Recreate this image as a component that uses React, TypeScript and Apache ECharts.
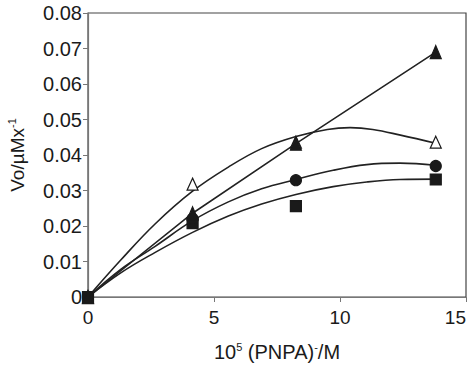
import React, { useEffect, useRef } from "react";
import * as echarts from "echarts";

// Measured points (x = 10^5 (PNPA)^-1 /M, y = Vo /µM·min^-1)
const xPoints = [0, 4.15, 8.25, 13.8];
const squareVals = [0, 0.0208, 0.0256, 0.0331];
const circleVals = [0, 0.022, 0.0329, 0.0369];
const filledTriVals = [0, 0.0236, 0.0432, 0.069];
const openTriVals = [0, 0.0318, 0.0436, 0.0436];

// Trend curves
const curveX = [0, 1.3, 2.65, 4.15, 5.57, 6.89, 8.25, 9.73, 11.06, 12.38, 13.8];
const squareCurve = [0, 0.0068, 0.0125, 0.0182, 0.0228, 0.0262, 0.0289, 0.0311, 0.0324, 0.0331, 0.0332];
const circleCurve = [0, 0.0078, 0.0142, 0.0215, 0.0268, 0.0305, 0.0331, 0.0357, 0.0373, 0.0377, 0.0371];
const openTriCurveX = [0, 1.3, 2.65, 4.15, 5.57, 6.89, 8.25, 9.5, 10.4, 11.3, 12.4, 13.8];
const openTriCurve = [0, 0.0104, 0.0205, 0.0298, 0.0366, 0.0418, 0.0452, 0.0472, 0.0477, 0.0472, 0.0456, 0.0433];

const xTicks = { min: 0, max: 15, interval: 5 };
const yTicks = { min: 0, max: 0.08, interval: 0.01 };

const zip = (xs: number[], ys: number[]) => xs.map((x, i) => [x, ys[i]]);

const INK = "#1a1a1a";
const FONT = "Liberation Sans, Arial, sans-serif";

export default function App() {
  const ref = useRef<HTMLDivElement>(null);
  useEffect(() => {
    if (!ref.current) return;
    const chart = echarts.init(ref.current, undefined, { renderer: "svg" });
    const curve = (data: number[][], smooth: boolean | number) => ({
      type: "line" as const,
      data,
      smooth,
      showSymbol: false,
      symbol: "none",
      lineStyle: { color: "#222", width: 1.6 },
      z: 2,
      silent: true,
    });
    const marks = (data: number[][], symbol: string, size: number | number[], fill: string) => ({
      type: "scatter" as const,
      data,
      symbol,
      symbolSize: size,
      itemStyle: { color: fill, borderColor: INK, borderWidth: 1.2, opacity: 1 },
      z: 3,
    });
    const supStyle = (fs: number, lh: number) => ({
      fontSize: fs,
      lineHeight: lh,
      verticalAlign: "top",
      color: INK,
      fontFamily: FONT,
      padding: [0, 0, 10, 0],
    });
    chart.setOption({
      animation: false,
      backgroundColor: "#fff",
      textStyle: { fontFamily: FONT },
      grid: {
        left: 88,
        right: 8,
        top: 13,
        bottom: 68,
        containLabel: false,
        outerBoundsMode: "none",
        show: true,
        borderColor: "#444",
        borderWidth: 1.2,
        backgroundColor: "transparent",
      },
      xAxis: {
        type: "value",
        min: xTicks.min,
        max: xTicks.max,
        interval: xTicks.interval,
        splitLine: { show: false },
        axisLine: { onZero: false, lineStyle: { color: "#777", width: 1.2 } },
        axisTick: { show: true, length: 5, lineStyle: { color: "#777" } },
        axisLabel: { color: INK, fontSize: 19, margin: 11, fontFamily: FONT, alignMaxLabel: "right" },
        name: "10{sup|5} (PNPA){sup|-}/M",
        nameLocation: "middle",
        nameGap: 44,
        nameTextStyle: {
          color: INK,
          fontSize: 20,
          fontFamily: FONT,
          lineHeight: 22,
          rich: { sup: supStyle(11, 22) },
        },
      },
      yAxis: {
        type: "value",
        min: yTicks.min,
        max: yTicks.max,
        interval: yTicks.interval,
        splitLine: { show: false },
        axisLine: { show: true, onZero: false, lineStyle: { color: "#777", width: 1.2 } },
        axisTick: { show: true, length: 5, lineStyle: { color: "#777" } },
        axisLabel: {
          color: INK,
          fontSize: 20,
          margin: 6,
          fontFamily: FONT,
          formatter: (v: number) => (v === 0 ? "0" : v.toFixed(2)),
        },
        name: "Vo/µMx{sup|-1}",
        nameLocation: "middle",
        nameGap: 60,
        nameTextStyle: {
          color: INK,
          fontSize: 19,
          fontFamily: FONT,
          lineHeight: 22,
          rich: { sup: supStyle(11, 22) },
        },
      },
      series: [
        curve(zip(curveX, squareCurve), 0.4),
        curve(zip(curveX, circleCurve), 0.4),
        curve(zip(openTriCurveX, openTriCurve), 0.4),
        curve(zip(xPoints, filledTriVals), false),
        marks(zip(xPoints, openTriVals), "triangle", [11, 12], "#fff"),
        marks(zip(xPoints, squareVals), "rect", 11, INK),
        marks(zip(xPoints, circleVals), "circle", 11, INK),
        marks(zip(xPoints, filledTriVals), "triangle", [11, 13], INK),
      ],
    });
    return () => chart.dispose();
  }, []);
  return <div ref={ref} style={{ width: 474, height: 365, position: "absolute", left: 0, top: 0 }} />;
}
